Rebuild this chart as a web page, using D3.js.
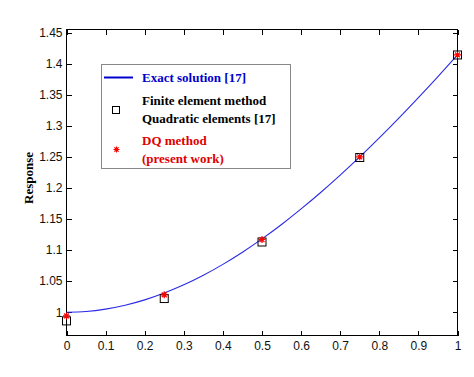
<!DOCTYPE html>
<html><head><meta charset="utf-8">
<script src="https://cdn.jsdelivr.net/npm/d3@7"></script>
<style>body{margin:0;background:#fff;} svg{display:block;}</style>
</head><body>
<svg id="c" width="474" height="377"></svg>
<script>
const exactX = [0,0.05,0.1,0.15,0.2,0.25,0.3,0.35,0.4,0.45,0.5,0.55,0.6,0.65,0.7,0.75,0.8,0.85,0.9,0.95,1];
const exactY = [1.0,1.0012,1.005,1.0112,1.0198,1.0308,1.044,1.0595,1.077,1.0966,1.118,1.1412,1.1662,1.1927,1.2207,1.25,1.2806,1.3124,1.3454,1.3793,1.4142];
const nodeX = [0,0.25,0.5,0.75,1];
const feY = [0.986,1.022,1.113,1.249,1.414];
const dqY = [0.994,1.028,1.117,1.250,1.414];
const xTicks = [0,0.1,0.2,0.3,0.4,0.5,0.6,0.7,0.8,0.9,1];
const yTicks = [1,1.05,1.1,1.15,1.2,1.25,1.3,1.35,1.4,1.45];
const legendLabels = [["Exact solution [17]"],["Finite element method","Quadratic elements [17]"],["DQ method","(present work)"]];

const svg = d3.select("#c");
const L=66.5, R=457.5, T=29.5, B=335.5;
const x = d3.scaleLinear().domain([0,1]).range([L,R]);
const y = d3.scaleLinear().domain([0.9625,1.455]).range([B,T]);

const tickFont = "Arial, 'Liberation Sans', sans-serif";
const gx = svg.append("g").attr("transform",`translate(0,${B})`)
  .call(d3.axisBottom(x).tickValues(xTicks).tickSize(-5).tickPadding(6).tickFormat(d=>d3.format("~g")(d)));
const gxt = svg.append("g").attr("transform",`translate(0,${T})`)
  .call(d3.axisTop(x).tickValues(xTicks).tickSize(-5).tickFormat(""));
const gy = svg.append("g").attr("transform",`translate(${L},0)`)
  .call(d3.axisLeft(y).tickValues(yTicks).tickSize(-5).tickPadding(4).tickFormat(d=>d3.format("~g")(d)));
const gyr = svg.append("g").attr("transform",`translate(${R},0)`)
  .call(d3.axisRight(y).tickValues(yTicks).tickSize(-5).tickFormat(""));
[gx,gxt,gy,gyr].forEach(g=>{
  g.selectAll(".tick line").attr("stroke","#000").attr("shape-rendering","crispEdges");
  g.selectAll(".tick text").attr("font-family",tickFont).attr("font-size","12px").attr("fill","#111");
  g.select("path.domain").remove();
});
svg.append("rect").attr("x",L).attr("y",T).attr("width",R-L).attr("height",B-T)
  .attr("fill","none").attr("stroke","#000").attr("shape-rendering","crispEdges");

svg.append("text").attr("transform","translate(33,178) rotate(-90)")
  .attr("text-anchor","middle").attr("font-family","'Liberation Serif','Times New Roman',serif")
  .attr("font-weight","bold").attr("font-size","13px").text("Response");

const line = d3.line().x((d,i)=>x(exactX[i])).y(d=>y(d)).curve(d3.curveMonotoneX);
svg.append("path").datum(exactY).attr("d",line).attr("fill","none").attr("stroke","#2a2ae6").attr("stroke-width",1.1);

svg.selectAll("rect.fe").data(feY).enter().append("rect").attr("class","fe")
  .attr("x",(d,i)=>x(nodeX[i])-4).attr("y",d=>y(d)-4).attr("width",8).attr("height",8)
  .attr("fill","none").attr("stroke","#000").attr("stroke-width",1);

function star(g,cx,cy,r){
  const p = `M${cx-r},${cy}L${cx+r},${cy}M${cx},${cy-r}L${cx},${cy+r}M${cx-r*0.7},${cy-r*0.7}L${cx+r*0.7},${cy+r*0.7}M${cx-r*0.7},${cy+r*0.7}L${cx+r*0.7},${cy-r*0.7}`;
  g.append("path").attr("d",p).attr("stroke","#ff0000").attr("stroke-width",1.2).attr("fill","none");
}
const gs = svg.append("g");
dqY.forEach((d,i)=>star(gs,x(nodeX[i]),y(d),3.5));

const lg = svg.append("g");
lg.append("rect").attr("x",101.5).attr("y",64.5).attr("width",189).attr("height",104)
  .attr("fill","#fff").attr("stroke","#888").attr("shape-rendering","crispEdges");
lg.append("line").attr("x1",104).attr("x2",133).attr("y1",77.5).attr("y2",77.5).attr("stroke","#0000cc").attr("stroke-width",2);
lg.append("rect").attr("x",112.5).attr("y",106.5).attr("width",7).attr("height",7).attr("fill","none").attr("stroke","#000");
star(lg,116.5,149.5,3);
const serif = "'Liberation Serif','Times New Roman',serif";
const rows = [{lines:legendLabels[0],ys:[82],col:"#0000cc"},{lines:legendLabels[1],ys:[105,123],col:"#000"},{lines:legendLabels[2],ys:[145,163],col:"#e00000"}];
rows.forEach(r=>r.lines.forEach((t,j)=>{
  lg.append("text").attr("x",142).attr("y",r.ys[j]).attr("font-family",serif).attr("font-weight","bold")
    .attr("font-size","13px").attr("fill",r.col).text(t);
}));
</script>
</body></html>
